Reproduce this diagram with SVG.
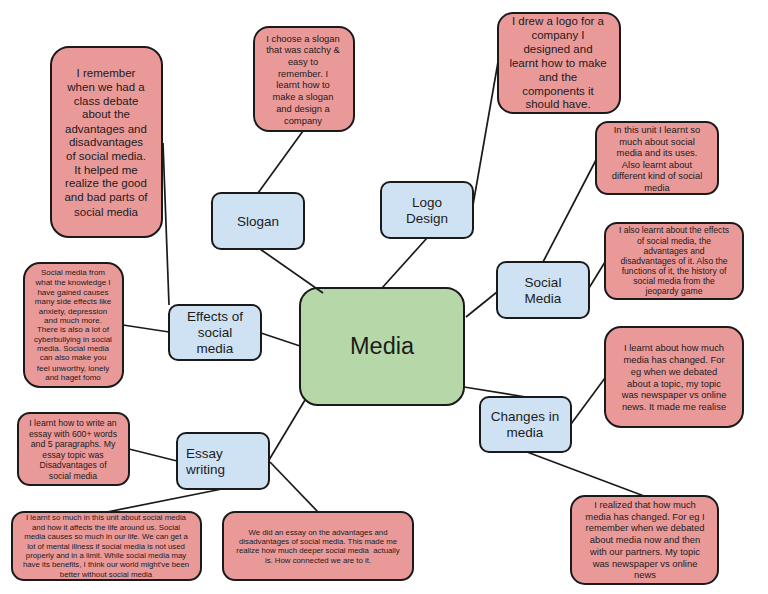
<svg xmlns="http://www.w3.org/2000/svg" width="768" height="594" viewBox="0 0 768 594">
<style>
text{font-family:"Liberation Sans",Arial,sans-serif;fill:#1c1c1c;text-anchor:middle;white-space:pre}
rect{stroke:#1a1a1a;stroke-width:2}
.b rect{fill:#cfe2f3}.r rect{fill:#ea9999}.g rect{fill:#b6d7a8}
.b text{font-size:13.5px}
#conn line{stroke:#1a1a1a;stroke-width:1.7}
.s11 text{font-size:11.5px}.s9 text{font-size:9.4px}.s87 text{font-size:8.7px}.s8 text{font-size:8.6px}.s78 text{font-size:7.8px}.s80 text{font-size:8px}
</style>
<rect width="768" height="594" fill="#fff" style="stroke:none"/>
<g id="media" class="g"><rect x="300" y="288" width="164" height="117" rx="18"/><text x="382" y="354" style="font-size:23.5px">Media</text></g>
<g id="slogan" class="b"><rect x="212" y="193" width="92" height="56" rx="9"/><text x="258" y="226">Slogan</text></g>
<g id="logo" class="b"><rect x="381" y="182" width="92" height="56" rx="9"/><text x="427" y="207">Logo</text><text x="427" y="223">Design</text></g>
<g id="social" class="b"><rect x="497" y="262" width="92" height="56" rx="9"/><text x="543" y="287">Social</text><text x="543" y="303">Media</text></g>
<g id="changes" class="b"><rect x="480" y="397" width="91" height="55" rx="9"/><text x="525" y="421">Changes in</text><text x="525" y="437">media</text></g>
<g id="essay" class="b"><rect x="177" y="433" width="92" height="56" rx="9"/><text x="186" y="458" style="text-anchor:start">Essay</text><text x="186" y="474" style="text-anchor:start">writing</text></g>
<g id="effects" class="b"><rect x="169" y="305" width="92" height="55" rx="9"/><text x="215" y="321">Effects of</text><text x="215" y="337">social</text><text x="215" y="353">media</text></g>
<g id="debate" class="r s11"><rect x="51" y="47" width="111" height="190" rx="18"/>
<text x="106" y="77">I remember</text><text x="106" y="91">when we had a</text><text x="106" y="105">class debate</text><text x="106" y="118">about the</text><text x="106" y="133">advantages and</text><text x="106" y="146">disadvantages</text><text x="106" y="160">of social media.</text><text x="106" y="174">It helped me</text><text x="106" y="187">realize the good</text><text x="106" y="201">and bad parts of</text><text x="106" y="216">social media</text></g>
<g id="slogan-note" class="r s9"><rect x="254" y="27" width="100" height="104" rx="15"/>
<text x="303" y="41.5">I choose a slogan</text><text x="303" y="53">that was catchy &amp;</text><text x="303" y="65">easy to</text><text x="303" y="76.5">remember. I</text><text x="303" y="88">learnt how to</text><text x="303" y="100">make a slogan</text><text x="303" y="112">and design a</text><text x="303" y="123.5">company</text></g>
<g id="logo-note" class="r s11"><rect x="498" y="13" width="122" height="100" rx="15"/>
<text x="558" y="25">I drew a logo for a</text><text x="558" y="39">company I</text><text x="558" y="53">designed and</text><text x="558" y="67">learnt how to make</text><text x="558" y="81">and the</text><text x="558" y="95">components it</text><text x="558" y="108">should have.</text></g>
<g id="unit-note" class="r s9"><rect x="596" y="122" width="122" height="72" rx="12"/>
<text x="657" y="133">In this unit I learnt so</text><text x="657" y="145">much about social</text><text x="657" y="156">media and its uses.</text><text x="657" y="168">Also learnt about</text><text x="657" y="179">different kind of social</text><text x="657" y="191">media</text></g>
<g id="effects-note" class="r s8"><rect x="605" y="223" width="138" height="76" rx="12"/>
<text x="674" y="233">I also learnt about the effects</text><text x="674" y="244">of social media, the</text><text x="674" y="254">advantages and</text><text x="674" y="264">disadvantages of it. Also the</text><text x="674" y="274">functions of it, the history of</text><text x="674" y="284">social media from the</text><text x="674" y="294">jeopardy game</text></g>
<g id="changes-note" class="r s9"><rect x="605" y="327" width="138" height="100" rx="16"/>
<text x="674" y="351">I learnt about how much</text><text x="674" y="363">media has changed. For</text><text x="674" y="375">eg when we debated</text><text x="674" y="387">about a topic, my topic</text><text x="674" y="398">was newspaper vs online</text><text x="674" y="410">news. It made me realise</text></g>
<g id="realized-note" class="r s9"><rect x="571" y="496" width="147" height="88" rx="14"/>
<text x="645" y="508">I realized that how much</text><text x="645" y="520">media has changed. For eg I</text><text x="645" y="531">remember when we debated</text><text x="645" y="543">about media now and then</text><text x="645" y="555">with our partners. My topic</text><text x="645" y="567">was newspaper vs online</text><text x="645" y="578">news</text></g>
<g id="did-note" class="r s78"><rect x="223" y="512" width="190" height="68" rx="12"/>
<text x="318" y="535">We did an essay on the advantages and</text><text x="318" y="544">disadvantages of social media. This made me</text><text x="318" y="553">realize how much deeper social media  actually</text><text x="318" y="563">is. How connected we are to it.</text></g>
<g id="much-note" class="r s78"><rect x="12" y="512" width="189" height="68" rx="12"/>
<text x="106" y="520">I learnt so much in this unit about social media</text><text x="106" y="530">and how it affects the life around us. Social</text><text x="106" y="539">media causes so much in our life. We can get a</text><text x="106" y="549">lot of mental illness if social media is not used</text><text x="106" y="558">properly and in a limit. While social media may</text><text x="106" y="567">have its benefits, I think our world might've been</text><text x="106" y="577">better without social media</text></g>
<g id="essay-note" class="r s87"><rect x="18" y="413" width="111" height="72" rx="12"/>
<text x="73" y="426">I learnt how to write an</text><text x="73" y="437">essay with 600+ words</text><text x="73" y="447">and 5 paragraphs. My</text><text x="73" y="458">essay topic was</text><text x="73" y="468">Disadvantages of</text><text x="73" y="479">social media</text></g>
<g id="side-note" class="r s80"><rect x="24" y="263" width="99" height="124" rx="16"/>
<text x="73" y="275">Social media from</text><text x="73" y="285">what the knowledge I</text><text x="73" y="295">have gained causes</text><text x="73" y="304">many side effects like</text><text x="73" y="314">anxiety, depression</text><text x="73" y="323">and much more.</text><text x="73" y="332">There is also a lot of</text><text x="73" y="342">cyberbullying in social</text><text x="73" y="351">media. Social media</text><text x="73" y="360">can also make you</text><text x="73" y="371">feel unworthy, lonely</text><text x="73" y="380">and haget fomo</text></g>
<g id="conn">
<line x1="163" y1="143" x2="169" y2="305"/>
<line x1="303" y1="131" x2="258" y2="193"/>
<line x1="260" y1="249" x2="323" y2="293"/>
<line x1="427" y1="238" x2="382" y2="288"/>
<line x1="473" y1="205" x2="498" y2="62"/>
<line x1="497" y1="292" x2="466" y2="317"/>
<line x1="543" y1="262" x2="596" y2="160"/>
<line x1="589" y1="288" x2="605" y2="262"/>
<line x1="464" y1="387" x2="526" y2="397"/>
<line x1="571" y1="424" x2="605" y2="378"/>
<line x1="527" y1="452" x2="644" y2="496"/>
<line x1="305" y1="400" x2="269" y2="460"/>
<line x1="270" y1="462" x2="318" y2="512"/>
<line x1="222" y1="489" x2="107" y2="512"/>
<line x1="177" y1="461" x2="129" y2="449"/>
<line x1="169" y1="332" x2="123" y2="325"/>
<line x1="261" y1="333" x2="300" y2="346"/>
</g>
</svg>
